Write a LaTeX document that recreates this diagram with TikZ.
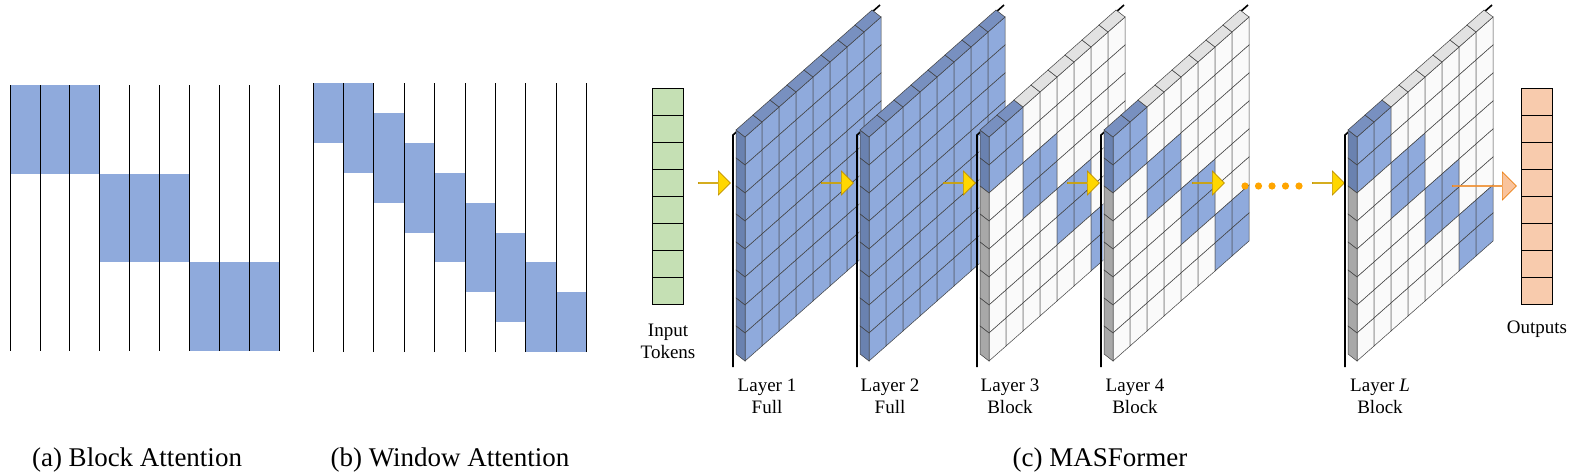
\documentclass[tikz,border=0pt]{standalone}
\usepackage{fontspec}
\setmainfont{Liberation Serif}
\usetikzlibrary{shapes.arrows}
\definecolor{blueA}{HTML}{8FAADC}
\definecolor{blueS}{HTML}{6A82B0}
\definecolor{blueT}{HTML}{7890C0}
\definecolor{cellW}{HTML}{FAFAFA}
\definecolor{grayS}{HTML}{A8A8A8}
\definecolor{grayT}{HTML}{E2E2E2}
\definecolor{tokG}{HTML}{C5E0B4}
\definecolor{tokO}{HTML}{F8CBAD}
\definecolor{arrY}{HTML}{FFD700}
\definecolor{arrYd}{HTML}{BF9000}
\definecolor{dotO}{HTML}{FFA500}
\tikzset{
 gl/.style={draw=black!75,line width=0.5pt},
 yarr/.style={single arrow,draw=arrYd,fill=arrY,minimum height=32pt,minimum width=24pt,single arrow head extend=5pt,inner sep=0pt,line width=0.6pt},
 oarr/.style={single arrow,draw=orange!70!brown,fill=tokO!90!orange,minimum height=64pt,minimum width=28pt,single arrow head extend=6pt,inner sep=0pt,line width=0.6pt},
 lab/.style={font=\fontsize{19}{22}\selectfont,align=center},
 captxt/.style={font=\fontsize{27}{30}\selectfont,anchor=base},
 tok/.style={draw=black,line width=0.8pt}
}
\newcommand\mylayer[2]{%
\begin{scope}[shift={(#1,0)}]
 \draw[black,line width=1.6pt] (0,367) -- (0,135) -- (147,5);
 \draw[white,line width=0.8pt] (2.2,367) -- (2.2,137) -- (148,9);
 \foreach \c in {0,...,7}{\foreach \r in {0,...,7}{
   \pgfmathtruncatemacro\isb{or(#2==0,int(\c/2)==int(\r/2))}
   \ifnum\isb=1 \def\fc{blueA}\else\def\fc{cellW}\fi
   \filldraw[gl,fill=\fc] (12+\c*17,137+\r*28-\c*15) -- ++(17,-15) -- ++(0,28) -- ++(-17,15) -- cycle;
 }}
 \foreach \r in {0,...,7}{
   \pgfmathtruncatemacro\isb{or(#2==0,\r<2)}
   \ifnum\isb=1 \def\fc{blueS}\else\def\fc{grayS}\fi
   \filldraw[gl,fill=\fc] (12,137+\r*28) -- ++(0,28) -- ++(-9,-7) -- ++(0,-28) -- cycle;
 }
 \foreach \c in {0,...,7}{
   \pgfmathtruncatemacro\isb{or(#2==0,\c<2)}
   \ifnum\isb=1 \def\fc{blueT}\else\def\fc{grayT}\fi
   \filldraw[gl,fill=\fc] (12+\c*17,137-\c*15) -- ++(17,-15) -- ++(-9,-7) -- ++(-17,15) -- cycle;
 }
\end{scope}}
\begin{document}
\begin{tikzpicture}[x=1pt,y=-1pt]
\path[use as bounding box] (0,0) rectangle (1572,475);
% (a) block attention
\foreach \r in {0,...,8}{\foreach \c in {0,...,8}{
  \pgfmathtruncatemacro\isb{int(\c/3)==int(\r/3)}
  \ifnum\isb=1 \fill[blueA] (10+\c*29.9,85+\r*29.5) rectangle ++(29.9,29.5);\fi
}}
\begin{scope}[shift={(10,85)}]
\draw[black,line width=0.7pt] (0,0) grid[xstep=29.9,ystep=29.5] (269.1,265.5);
\end{scope}
% (b) window attention
\foreach \r in {0,...,8}{\foreach \c in {0,...,8}{
  \pgfmathtruncatemacro\isb{abs(\c-\r)<2}
  \ifnum\isb=1 \fill[blueA] (313+\c*30.4,83+\r*29.9) rectangle ++(30.4,29.9);\fi
}}
\begin{scope}[shift={(313,83)}]
\draw[black,line width=0.7pt] (0,0) grid[xstep=30.4,ystep=29.9] (273.6,269.1);
\end{scope}
% input tokens
\foreach \i in {0,...,7}{\filldraw[tok,fill=tokG] (652,88+\i*27.1) rectangle ++(31,27.1);}
\node[lab] (inlab) at (668,341) {Input\\Tokens};
% layers and arrows
\node[yarr] (a0) at (714,183) {};
\mylayer{733}{0}
\node[yarr] (a1) at (837,183) {};
\mylayer{857}{0}
\node[yarr] (a2) at (959,183) {};
\mylayer{977}{1}
\node[yarr] (a3) at (1083,183) {};
\mylayer{1101}{1}
\node[yarr] (a4) at (1208,183) {};
\foreach \i in {0,...,4}{\fill[dotO] (1245+\i*13.5,186) circle (3.6pt);}
\node[yarr] (a5) at (1328,183) {};
\mylayer{1345}{1}
\node[oarr] (ao) at (1484,186) {};
\foreach \i in {0,...,7}{\filldraw[tok,fill=tokO] (1521,88+\i*27.1) rectangle ++(31,27.1);}
\node[lab] (outlab) at (1537,329) {Outputs};
% labels
\node[lab] (l1) at (767,396) {Layer 1\\Full};
\node[lab] (l2) at (890,396) {Layer 2\\Full};
\node[lab] (l3) at (1010,396) {Layer 3\\Block};
\node[lab] (l4) at (1135,396) {Layer 4\\Block};
\node[lab] (lL) at (1380,396) {Layer \textit{L}\\Block};
\node[captxt] (ca) at (137,466) {(a) Block Attention};
\node[captxt] (cb) at (450,466) {(b) Window Attention};
\node[captxt] (cc) at (1100,466) {(c) MASFormer};
\end{tikzpicture}
\end{document}
